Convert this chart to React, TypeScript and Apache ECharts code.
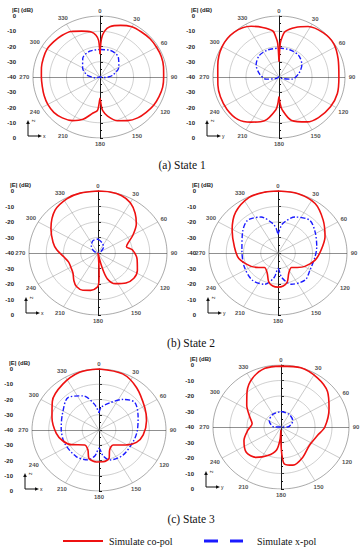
import React, { useEffect, useRef } from 'react';
import * as echarts from 'echarts';

type P = [number, number];

// angle (deg, clockwise from top) , |E| (dB)
const state1XzCo: P[] = [[0,-25],[2,-15],[5,-10],[10,-6.5],[20,-4],[30,-2],[40,-1.5],[50,-1],[60,-1],[70,-1],[80,-1.5],[90,-2],[100,-2],[110,-2.5],[120,-3],[130,-4],[140,-5],[150,-7],[160,-9.5],[170,-14],[176,-18],[178,-22],[180,-26],[182,-22],[184,-18],[190,-16],[200,-10.5],[210,-7],[220,-5],[230,-4],[240,-4],[250,-4.5],[260,-5],[270,-5],[280,-4.5],[290,-4],[300,-3.5],[310,-4],[320,-4.5],[330,-5.5],[340,-8],[350,-10],[355,-12.5],[358,-16],[360,-25]];
const state1XzX: P[] = [[0,-22],[20,-21.5],[40,-23],[60,-27],[80,-32],[90,-35],[100,-38],[120,-40],[240,-40],[260,-37],[270,-35],[280,-32],[300,-28],[320,-24],[340,-22],[360,-22]];

const state1YzCo: P[] = [[0,-30],[2,-18],[4,-14],[7,-10],[17,-6],[28,-2.5],[43,-0.5],[57,-0.3],[72,-2.3],[90,-3.7],[107,-3],[122,-3.2],[138,-4.2],[150,-6],[165,-10.5],[175,-18.5],[178,-23],[180,-27],[182,-23],[185,-18.5],[197,-10],[210,-5.8],[222,-2.6],[236,-2],[250,-2.2],[262,-2.6],[281,-2.2],[300,-0.2],[317,0],[333,-2.7],[343,-6],[353,-9.6],[356,-14],[358,-18],[360,-30]];
const state1YzX: P[] = [[0,-21],[20,-21],[40,-21.5],[60,-24],[80,-28],[100,-32],[120,-38],[140,-40],[220,-40],[240,-38],[260,-32],[280,-28],[300,-24],[320,-21.5],[340,-21],[360,-21]];

const state2XzCo: P[] = [[0,0],[10,0],[20,-0.5],[30,-2.5],[40,-6.5],[50,-11],[60,-16.5],[70,-21.5],[76,-23],[84,-20],[100,-17],[116,-14.6],[128,-13.6],[140,-14.8],[153,-17.8],[162,-22.6],[166,-31],[169,-40],[173,-40],[175,-36],[177,-28],[178.5,-21],[181,-18],[190,-15.5],[200,-14.4],[210,-15],[218,-17.3],[228,-20.5],[237,-21.6],[251,-22],[263,-20],[275,-16],[285,-13],[300,-8.5],[318,-2.8],[333,-0.6],[345,0],[360,0]];
const state2XzX: P[] = [[0,-31],[20,-33],[40,-35],[60,-38],[80,-40],[280,-40],[300,-37],[320,-34],[340,-31.5],[360,-31]];

const state2YzCo: P[] = [[0,0],[17,0],[34,-1.5],[51,-6.3],[69,-10.8],[86,-15],[102,-18],[119,-22.2],[130,-25.5],[140,-27.8],[154,-25.7],[164,-20.5],[172,-18.5],[180,-18],[188,-18.5],[196,-20.5],[206,-25.7],[220,-27.8],[230,-25.5],[241,-22.2],[261,-17],[279,-14.4],[299,-9.6],[317,-4],[335,-0.4],[349,0],[360,0]];
const state2YzX: P[] = [[0,-28],[8,-21],[23,-14.8],[41,-12],[58,-14.6],[80,-17.2],[97,-18.4],[121,-18.4],[138,-16.5],[159,-18.4],[172,-24],[180,-30],[188,-24],[201,-18.4],[220,-17],[245,-18.5],[275,-19],[303,-15.5],[320,-12.5],[337,-14.8],[351,-20.8],[356,-24],[360,-28]];

const state3XzCo: P[] = [[0,0],[21,-0.6],[39,-4.3],[62,-9],[78,-11],[97,-13.4],[110,-16.2],[121,-21],[139,-27],[154,-25.5],[162,-20.5],[173,-19],[184,-19],[198,-20.5],[207,-25.4],[221,-27],[240,-20.8],[252,-17.2],[265,-14.4],[286,-10.8],[304,-6.4],[324,-3],[343,-0.4],[360,0]];
const state3XzX: P[] = [[0,-28.7],[5,-25],[20,-21],[36,-15.2],[50,-12],[71,-15.3],[92,-17.2],[110,-18.2],[139,-18.2],[162,-19.3],[172,-23],[180,-28],[188,-23],[199,-19.3],[218,-17.9],[247,-17.7],[273,-17.4],[297,-15.6],[319,-11.8],[337,-15.7],[351,-23],[360,-28.7]];

const state3YzCo: P[] = [[0,-0.7],[17,0],[34,-1.7],[50,-4.3],[67,-9.3],[90,-14.2],[104,-17.8],[126,-19.5],[147,-16.6],[164,-14.4],[175,-16],[178,-21],[180,-30],[182,-38],[184,-32],[190,-25],[203,-20],[217,-15.5],[231,-13.8],[248,-16.5],[264,-20.4],[277,-22.9],[290,-20.4],[305,-15.4],[319,-9.6],[332,-4.3],[346,-1],[360,-0.7]];
const state3YzX: P[] = [[0,-30],[30,-30.5],[60,-32],[90,-36],[110,-40],[250,-40],[270,-36],[300,-32],[330,-30.5],[360,-30]];

const ANGLE_TICKS = [0, 30, 60, 90, 120, 150, 180, 210, 240, 270, 300, 330];
const RING_DB = [-30, -20, -10, 0];
const DB_MIN = -40;
const CAPTIONS = ['(a) State 1', '(b) State 2', '(c) State 3'];
const LEGEND_NAMES = ['Simulate co-pol', 'Simulate x-pol'];

const PLOTS = [
  { co: state1XzCo, xp: state1XzX, cx: 100, cy: 77, rx: 67, ry: 61, axisX: 19, h: 'x' },
  { co: state1YzCo, xp: state1YzX, cx: 279, cy: 77, rx: 66, ry: 61, axisX: 198, h: 'y' },
  { co: state2XzCo, xp: state2XzX, cx: 98, cy: 253, rx: 69, ry: 62, axisX: 17, h: 'x' },
  { co: state2YzCo, xp: state2YzX, cx: 278, cy: 253, rx: 69, ry: 62, axisX: 199, h: 'y' },
  { co: state3XzCo, xp: state3XzX, cx: 99, cy: 430, rx: 67, ry: 61, axisX: 16, h: 'x' },
  { co: state3YzCo, xp: state3YzX, cx: 281, cy: 427, rx: 68, ry: 62, axisX: 197, h: 'y' },
];

const RED = '#ee1111';
const BLUE = '#1a1aff';
const SANS = 'Liberation Sans, Arial, sans-serif';
const SERIF = 'Liberation Serif, Times New Roman, serif';

function toXY(angle: number, db: number): P {
  const r = Math.max(0, db - DB_MIN);
  const t = (angle * Math.PI) / 180;
  return [r * Math.sin(t), r * Math.cos(t)];
}

function buildOption() {
  const grid: any[] = [];
  const xAxis: any[] = [];
  const yAxis: any[] = [];
  const series: any[] = [];
  const graphic: any[] = [];
  const R = -DB_MIN;

  PLOTS.forEach((p, i) => {
    grid.push({ left: p.cx - p.rx, top: p.cy - p.ry, width: 2 * p.rx, height: 2 * p.ry });
    xAxis.push({ gridIndex: i, type: 'value', min: -R, max: R, show: false });
    yAxis.push({
      gridIndex: i, type: 'value', min: -R, max: R, interval: 10, position: 'left',
      offset: p.cx - p.rx - p.axisX,
      axisLine: { show: true, lineStyle: { color: '#111', width: 1 } },
      axisTick: { show: true, inside: true, length: 3, lineStyle: { color: '#111' } },
      minorTick: { show: true, splitNumber: 2, length: 2, lineStyle: { color: '#111' } },
      splitLine: { show: false },
      axisLabel: {
        fontSize: 6, fontWeight: 'bold', fontFamily: SANS, color: '#222', margin: 3,
        formatter: (v: number) => String(Math.abs(v) + DB_MIN),
      },
    });

    // rings
    const ringCoords = RING_DB.map((db) => {
      const pts: P[] = [];
      for (let a = 0; a <= 360; a += 3) pts.push(toXY(a, db));
      return { coords: pts, lineStyle: db === 0 ? { color: '#555', width: 1 } : { color: '#8a8a8a', width: 0.8 } };
    });
    series.push({
      type: 'lines', coordinateSystem: 'cartesian2d', xAxisIndex: i, yAxisIndex: i,
      polyline: true, silent: true, z: 1, data: ringCoords, lineStyle: { color: '#888', width: 0.8 },
    });
    // spokes
    const spokes = ANGLE_TICKS.filter((a) => a < 180).map((a) => {
      const main = a % 90 === 0;
      return {
        coords: [toXY(a, 0), toXY(a + 180, 0)],
        lineStyle: main ? { color: '#222', width: 1 } : { color: '#7a7a7a', width: 0.8 },
      };
    });
    series.push({
      type: 'lines', coordinateSystem: 'cartesian2d', xAxisIndex: i, yAxisIndex: i,
      silent: true, z: 2, data: spokes, lineStyle: { color: '#888', width: 0.8 },
    });
    // angle labels
    series.push({
      type: 'scatter', xAxisIndex: i, yAxisIndex: i, symbolSize: 1, silent: true, z: 3,
      itemStyle: { color: 'transparent' },
      data: ANGLE_TICKS.map((a) => {
        const t = (a * Math.PI) / 180;
        const txt = String(a);
        const d = 5.5 + (txt.length - 1) * 1.6 * Math.abs(Math.sin(t));
        return {
          name: txt, value: toXY(a, 0),
          label: { offset: [d * Math.sin(t), -d * Math.cos(t)] },
        };
      }),
      label: {
        show: true, position: 'inside', formatter: '{b}', fontSize: 6, fontWeight: 'bold',
        fontFamily: SANS, color: '#222',
      },
    });
    // data
    series.push({
      type: 'line', name: LEGEND_NAMES[1], xAxisIndex: i, yAxisIndex: i, z: 4,
      data: p.xp.map(([a, db]) => toXY(a, db)), showSymbol: false, symbol: 'none',
      smooth: 0.3, clip: false,
      lineStyle: { color: BLUE, width: 1.4, type: [5, 2, 1.5, 2] },
    });
    series.push({
      type: 'line', name: LEGEND_NAMES[0], xAxisIndex: i, yAxisIndex: i, z: 5,
      data: p.co.map(([a, db]) => toXY(a, db)), showSymbol: false, symbol: 'none',
      smooth: 0.3, clip: false,
      lineStyle: { color: RED, width: 1.6 },
    });

    // |E| (dB) label
    graphic.push({
      type: 'text', x: p.axisX - 7, y: p.cy - p.ry - 6,
      style: { text: '|E| (dB)', fontSize: 6, fontWeight: 'bold', fontFamily: SANS, fill: '#222', verticalAlign: 'middle' },
    });
    // coordinate indicator
    const bx = p.axisX + 9;
    const by = p.cy + p.ry - 2;
    graphic.push({
      type: 'group', children: [
        { type: 'line', shape: { x1: bx, y1: by, x2: bx, y2: by - 14 }, style: { stroke: '#111', lineWidth: 1 } },
        { type: 'polygon', shape: { points: [[bx - 1.8, by - 12], [bx + 1.8, by - 12], [bx, by - 16]] }, style: { fill: '#111' } },
        { type: 'line', shape: { x1: bx, y1: by, x2: bx + 12, y2: by }, style: { stroke: '#111', lineWidth: 1 } },
        { type: 'polygon', shape: { points: [[bx + 10, by - 1.8], [bx + 10, by + 1.8], [bx + 14, by]] }, style: { fill: '#111' } },
        { type: 'text', x: bx + 2, y: by - 14, rotation: Math.PI / 2, style: { text: 'z', fontSize: 5, fontFamily: SANS, fill: '#111' } },
        { type: 'text', x: bx + 15, y: by, style: { text: p.h, fontSize: 5, fontFamily: SANS, fill: '#111', verticalAlign: 'middle' } },
      ],
    });
  });

  const capY = [165, 343, 519];
  const capX = [182, 191, 191];
  CAPTIONS.forEach((c, k) => {
    graphic.push({
      type: 'text', x: capX[k], y: capY[k],
      style: { text: c, fontSize: 11.5, fontFamily: SERIF, fill: '#111', align: 'center', verticalAlign: 'middle' },
    });
  });
  // legend
  const ly = 541;
  graphic.push(
    { type: 'line', shape: { x1: 63, y1: ly, x2: 103, y2: ly }, style: { stroke: RED, lineWidth: 2 } },
    { type: 'text', x: 109, y: ly, style: { text: LEGEND_NAMES[0], fontSize: 10, fontFamily: SERIF, fill: '#111', verticalAlign: 'middle' } },
    { type: 'line', shape: { x1: 204, y1: ly, x2: 218, y2: ly }, style: { stroke: BLUE, lineWidth: 3 } },
    { type: 'line', shape: { x1: 230, y1: ly, x2: 243, y2: ly }, style: { stroke: BLUE, lineWidth: 3 } },
    { type: 'text', x: 257, y: ly, style: { text: LEGEND_NAMES[1], fontSize: 10, fontFamily: SERIF, fill: '#111', verticalAlign: 'middle' } },
  );

  return { animation: false, backgroundColor: '#fff', grid, xAxis, yAxis, series, graphic };
}

export default function App() {
  const ref = useRef<HTMLDivElement>(null);
  useEffect(() => {
    if (!ref.current) return;
    const chart = echarts.init(ref.current, undefined, { renderer: 'svg' });
    chart.setOption(buildOption() as any);
    return () => chart.dispose();
  }, []);
  return <div ref={ref} style={{ position: 'fixed', left: 0, top: 0, width: 362, height: 550, background: '#fff' }} />;
}
